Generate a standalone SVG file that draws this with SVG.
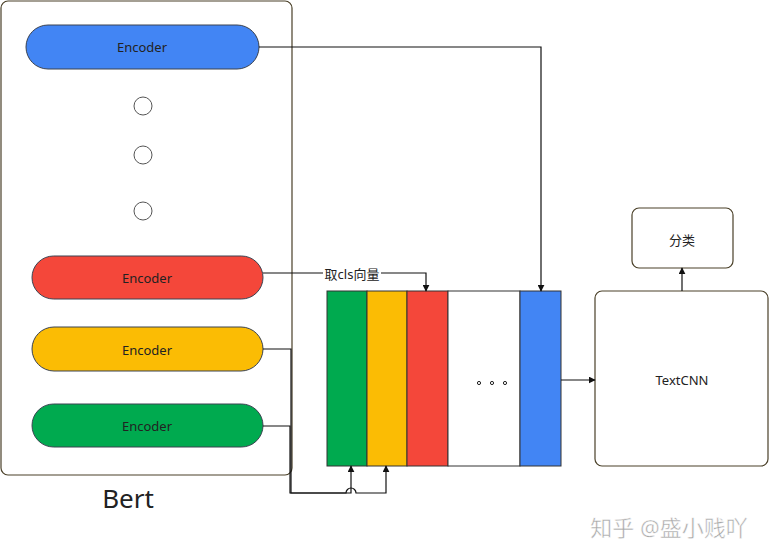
<svg xmlns="http://www.w3.org/2000/svg" width="770" height="560" viewBox="0 0 770 560">
<defs>
<style>
text{font-family:"Noto Sans","Noto Sans CJK SC",sans-serif;font-size:13px;fill:#222;text-anchor:middle;dominant-baseline:central}
.box{fill:#fff;stroke:#4a4028;stroke-width:1.2}
.enc{stroke:#3a4250;stroke-width:1}
.col{stroke:#333;stroke-width:1}
.dot{fill:#fff;stroke:#555;stroke-width:1}
.ln{fill:none;stroke:#111;stroke-width:1.2}
.arr{fill:none;stroke:#111;stroke-width:1.2;marker-end:url(#ah)}
</style>
<marker id="ah" viewBox="0 0 10 10" refX="9" refY="5" markerWidth="7" markerHeight="7" orient="auto" markerUnits="userSpaceOnUse"><path d="M0,0 L10,5 L0,10 z" fill="#111"/></marker>
</defs>
<rect width="770" height="560" fill="#fff"/>
<g id="bert">
<rect class="box" x="1" y="1" width="291" height="474" rx="7"/>
<text x="128" y="498" style="font-size:26px">Bert</text>
</g>
<g id="enc-blue"><rect class="enc" x="26" y="25" width="233" height="44" rx="22" fill="#4285F4"/><text x="142" y="47">Encoder</text></g>
<g id="dots-v">
<circle class="dot" cx="143" cy="106" r="9"/>
<circle class="dot" cx="143" cy="155" r="9"/>
<circle class="dot" cx="143" cy="211" r="9"/>
</g>
<g id="enc-red"><rect class="enc" x="32" y="256" width="231" height="43" rx="21.5" fill="#F4473A"/><text x="147" y="278">Encoder</text></g>
<g id="enc-yellow"><rect class="enc" x="32" y="327" width="231" height="44" rx="22" fill="#FBBC04"/><text x="147" y="350">Encoder</text></g>
<g id="enc-green"><rect class="enc" x="32" y="404" width="231" height="43" rx="21.5" fill="#00AA4F"/><text x="147" y="426">Encoder</text></g>
<g id="matrix">
<rect class="col" x="327" y="291" width="40" height="175" fill="#00AA4F"/>
<rect class="col" x="367" y="291" width="40" height="175" fill="#FBBC04"/>
<rect class="col" x="407" y="291" width="41" height="175" fill="#F4473A"/>
<rect class="col" x="448" y="291" width="72" height="175" fill="#fff"/>
<rect class="col" x="520" y="291" width="41" height="175" fill="#4285F4"/>
<circle cx="479" cy="383" r="1.6" fill="#fff" stroke="#222" stroke-width="1"/>
<circle cx="492" cy="383" r="1.6" fill="#fff" stroke="#222" stroke-width="1"/>
<circle cx="505" cy="383" r="1.6" fill="#fff" stroke="#222" stroke-width="1"/>
</g>
<g id="textcnn"><rect class="box" x="595" y="291" width="173" height="175" rx="7"/><text x="682" y="380">TextCNN</text></g>
<g id="cls"><rect class="box" x="632" y="208" width="101" height="60" rx="7"/><text x="682" y="240">分类</text></g>
<g id="connectors">
<path class="arr" d="M259,47 H541 V291"/>
<path class="ln" d="M263,273 H323"/>
<text x="352" y="274">取cls向量</text>
<path class="arr" d="M381,273 H426 V291"/>
<path class="arr" d="M263,349 H291 V493 H346 A5,5 0 0 1 356,493 H386 V466"/>
<path class="arr" d="M263,426 H290 V493 H351 V466"/>
<path class="arr" d="M561,380 H595"/>
<path class="arr" d="M682,291 V268"/>
</g>
<text x="669" y="527" style="font-size:22px;fill:#a8a8a8;stroke:#fff;stroke-width:0.5">知乎 @盛小贱吖</text>
</svg>
